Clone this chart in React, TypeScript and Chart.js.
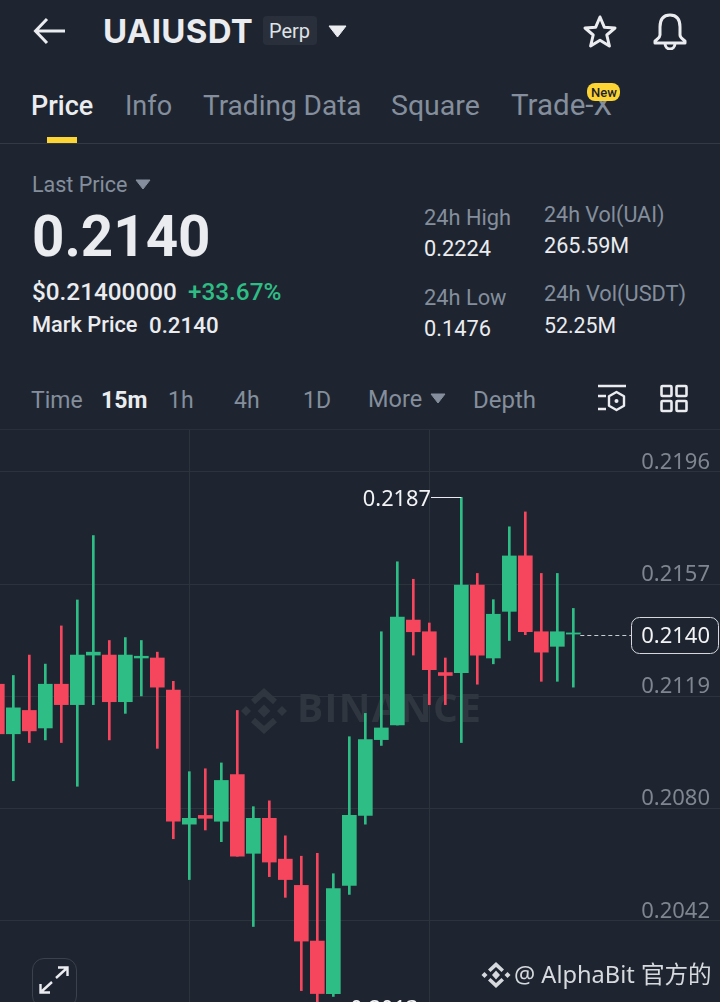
import React, { useEffect, useRef } from "react";
import { Chart, registerables } from "chart.js";

Chart.register(...registerables);

const opens = [0.21232,0.21062,0.21142,0.21082,0.21232,0.21162,0.21332,0.21332,0.21172,0.21322,0.21322,0.21212,0.20752,0.20782,0.20762,0.20922,0.20652,0.20772,0.20632,0.20542,0.20351,0.20171,0.20542,0.20782,0.21042,0.21092,0.21452,0.21412,0.21272,0.21272,0.21572,0.21322,0.21482,0.21672,0.21412,0.21362,0.21404];
const closes = [0.21062,0.21151,0.21072,0.21232,0.21162,0.21332,0.21342,0.21172,0.21332,0.21328,0.21222,0.20762,0.20772,0.20772,0.20902,0.20642,0.20772,0.20622,0.20562,0.20351,0.20171,0.20531,0.20782,0.21042,0.21082,0.21462,0.21412,0.21282,0.21262,0.21572,0.21332,0.21472,0.21672,0.21412,0.21342,0.21412,0.21408];
const highs = [0.21241,0.21262,0.21332,0.21301,0.21432,0.21521,0.21742,0.21382,0.21392,0.21382,0.21342,0.21242,0.20932,0.20942,0.20962,0.21142,0.20812,0.20832,0.20712,0.20642,0.20652,0.20582,0.21052,0.21132,0.21412,0.21652,0.21592,0.21442,0.21322,0.21873,0.21612,0.21522,0.21772,0.21823,0.21612,0.21612,0.21492];
const lows = [0.21053,0.20901,0.21032,0.21041,0.21032,0.20882,0.21162,0.21041,0.21132,0.21192,0.21012,0.20702,0.20562,0.20732,0.20692,0.20642,0.20401,0.20572,0.20501,0.20181,0.20102,0.20161,0.20511,0.20752,0.21022,0.21092,0.21332,0.21162,0.21162,0.21032,0.21232,0.21302,0.21382,0.21402,0.21242,0.21242,0.21222];
const gridValues = [0.2196, 0.21575, 0.2119, 0.20805, 0.2042];
const tickLabels = ["0.2196", "0.2157", "0.2119", "0.2080", "0.2042"];
const verticalGrid = [12, 27];
const lastPrice = 0.214;
const highLabel = "0.2187";
const lowLabel = "0.2013";

const BG = "#1e2530";
const GRID = "#2d333d";
const UP = "#2ebd85";
const DOWN = "#f6465d";
const GRAY = "#848e9c";
const WHITE = "#eaecef";
const FONT = "Roboto, sans-serif";

const color = (i: number) => (closes[i] >= opens[i] ? UP : DOWN);

const annotations = {
  id: "annotations",
  beforeDatasetsDraw(chart: any) {
    const c = chart.ctx;
    c.save();
    c.fillStyle = "#30363f";
    const dia = (cx: number, cy: number, r: number) => {
      c.beginPath();
      c.moveTo(cx, cy - r);
      c.lineTo(cx + r, cy);
      c.lineTo(cx, cy + r);
      c.lineTo(cx - r, cy);
      c.closePath();
      c.fill();
    };
    const ox = 264, oy = 281;
    dia(ox, oy, 6.5);
    dia(ox - 18, oy, 5);
    dia(ox + 18, oy, 5);
    c.strokeStyle = "#30363f";
    c.lineWidth = 6;
    c.beginPath();
    c.moveTo(ox - 11, oy - 9);
    c.lineTo(ox, oy - 19);
    c.lineTo(ox + 11, oy - 9);
    c.moveTo(ox - 11, oy + 9);
    c.lineTo(ox, oy + 19);
    c.lineTo(ox + 11, oy + 9);
    c.stroke();
    c.font = "700 39px 'Open Sans', sans-serif";
    c.textBaseline = "middle";
    c.textAlign = "left";
    (c as any).letterSpacing = "1.3px";
    c.fillText("BINANCE", 297, 281);
    (c as any).letterSpacing = "0px";
    c.restore();
  },
  afterDatasetsDraw(chart: any) {
    const c = chart.ctx;
    const xs = chart.scales.x;
    const ys = chart.scales.y;
    c.save();
    const hi = Math.max(...highs);
    const hiX = xs.getPixelForValue(highs.indexOf(hi));
    const hiY = Math.round(ys.getPixelForValue(hi)) + 0.5;
    c.strokeStyle = "#e8eaed";
    c.lineWidth = 1;
    c.beginPath();
    c.moveTo(431, hiY);
    c.lineTo(hiX, hiY);
    c.stroke();
    c.fillStyle = "#f2f3f5";
    c.font = "21.8px 'Noto Sans', sans-serif";
    c.textAlign = "right";
    c.textBaseline = "middle";
    c.fillText(highLabel, 431, hiY + 2);
    const loX = xs.getPixelForValue(lows.indexOf(Math.min(...lows)));
    c.textAlign = "left";
    c.fillText(lowLabel, loX + 33, 580);
    const py = Math.round(ys.getPixelForValue(lastPrice)) + 0.5;
    c.setLineDash([4, 3]);
    c.strokeStyle = "#c9ccd1";
    c.beginPath();
    c.moveTo(xs.getPixelForValue(opens.length - 1) + 7, py);
    c.lineTo(631, py);
    c.stroke();
    c.setLineDash([]);
    c.fillStyle = BG;
    c.strokeStyle = "#d5d7da";
    c.beginPath();
    c.roundRect(631.5, py - 18, 87, 36, 8);
    c.fill();
    c.stroke();
    c.fillStyle = "#f2f3f5";
    c.font = "22px 'Noto Sans', sans-serif";
    c.textAlign = "right";
    c.fillText(lastPrice.toFixed(4), 710, py + 1);
    c.restore();
  },
};

const noPadding = (s: any) => {
  s.paddingTop = 0;
  s.paddingBottom = 0;
  s.paddingLeft = 0;
  s.paddingRight = 0;
};

function CandleChart() {
  const ref = useRef<HTMLCanvasElement | null>(null);
  useEffect(() => {
    if (!ref.current) return;
    const idx = opens.map((_, i) => i);
    const chart = new Chart(ref.current, {
      type: "bar",
      data: {
        datasets: [
          {
            label: "wick",
            data: idx.map((i) => ({ x: i, y: [lows[i], highs[i]] })) as any,
            backgroundColor: idx.map(color),
            barThickness: 2,
            grouped: false,
            order: 2,
          },
          {
            label: "body",
            data: idx.map((i) => ({ x: i, y: [opens[i], closes[i]] })) as any,
            backgroundColor: idx.map(color),
            barThickness: 14,
            grouped: false,
            order: 1,
          },
        ],
      },
      options: {
        animation: false,
        responsive: false,
        devicePixelRatio: 1,
        layout: { padding: 0 },
        plugins: { legend: { display: false }, tooltip: { enabled: false } },
        scales: {
          x: {
            type: "linear",
            offset: false,
            min: 0.167,
            max: 45.167,
            afterBuildTicks: (s: any) => {
              s.ticks = verticalGrid.map((value) => ({ value }));
            },
            afterFit: (s: any) => {
              s.height = 0;
              noPadding(s);
            },
            grid: { color: GRID, drawTicks: false, offset: false },
            border: { display: false },
            ticks: { display: false },
          },
          y: {
            type: "linear",
            position: "right",
            min: 0.20142,
            max: 0.22104,
            afterBuildTicks: (s: any) => {
              s.ticks = gridValues.map((value) => ({ value }));
            },
            afterFit: (s: any) => {
              s.width = 0;
              noPadding(s);
            },
            grid: { color: GRID, drawTicks: false },
            border: { display: false },
            ticks: {
              mirror: true,
              padding: -10,
              labelOffset: -9.5,
              autoSkip: false,
              color: "#7f8690",
              font: { family: "'Noto Sans', sans-serif", size: 22 },
              callback: (_v: any, i: number) => tickLabels[i],
            },
          },
        },
      } as any,
      plugins: [annotations],
    });
    return () => chart.destroy();
  }, []);
  return (
    <canvas
      ref={ref}
      width={720}
      height={572}
      style={{ position: "absolute", left: 0, top: 430, width: 720, height: 572, display: "block" }}
    />
  );
}

type TP = {
  x: number;
  y: number;
  size: number;
  color?: string;
  weight?: number;
  family?: string;
  ls?: number;
  children: React.ReactNode;
};
const T = ({ x, y, size, color = GRAY, weight = 400, family = FONT, ls = 0, children }: TP) => (
  <div
    style={{
      position: "absolute",
      left: x,
      top: y,
      transform: "translateY(-50%)",
      fontSize: size,
      lineHeight: 1,
      color,
      fontWeight: weight,
      fontFamily: family,
      letterSpacing: ls,
      whiteSpace: "nowrap",
    }}
  >
    {children}
  </div>
);

const Tri = ({ x, y, w, h, fill }: { x: number; y: number; w: number; h: number; fill: string }) => (
  <svg style={{ position: "absolute", left: x, top: y }} width={w} height={h} viewBox={`0 0 ${w} ${h}`}>
    <path d={`M1 1 L${w - 1} 1 L${w / 2} ${h - 1} Z`} fill={fill} stroke={fill} strokeLinejoin="round" />
  </svg>
);

const Box = (props: any) => <div style={{ position: "absolute", ...props }} />;

export default function App() {
  return (
    <div
      style={{
        position: "fixed",
        left: 0,
        top: 0,
        width: 720,
        height: 1002,
        background: BG,
        overflow: "hidden",
      }}
    >
      <svg style={{ position: "absolute", left: 32, top: 16 }} width={36} height={30} fill="none" stroke={WHITE} strokeWidth={3}>
        <path d="M33 15 H4 M15 3 L3.5 15 L15 27" />
      </svg>
      <T x={103} y={31} size={33} color={WHITE} weight={700} family="Inter, sans-serif" ls={0.3}>UAIUSDT</T>
      <Box left={263} top={16} width={54} height={29} background="#2a303b" borderRadius={4} />
      <T x={269} y={31} size={20} color="#dfe2e6">Perp</T>
      <Tri x={328} y={25} w={19} h={13} fill={WHITE} />
      <svg style={{ position: "absolute", left: 582, top: 14 }} width={36} height={36} fill="none" stroke={WHITE} strokeWidth={3} strokeLinejoin="round">
        <path d="M18 3 L22.3 13.2 L33 14 L24.8 21 L27.4 32 L18 26.2 L8.6 32 L11.2 21 L3 14 L13.7 13.2 Z" />
      </svg>
      <svg style={{ position: "absolute", left: 652, top: 12 }} width={36} height={38} fill="none" stroke={WHITE} strokeWidth={3} strokeLinejoin="round">
        <path d="M18 3 C10 3 8 9 8 15 V23 C8 26 5 27 3 29 V31 H33 V29 C31 27 28 26 28 23 V15 C28 9 26 3 18 3 Z" />
        <path d="M13 31 C13 39 23 39 23 31" />
      </svg>

      <T x={31} y={106} size={27} color={WHITE} weight={500}>Price</T>
      <T x={125} y={106} size={27}>Info</T>
      <T x={203} y={106} size={28}>Trading Data</T>
      <T x={391} y={106} size={28.5}>Square</T>
      <T x={511} y={106} size={29.5}>Trade-X</T>
      <Box left={587} top={83} width={33} height={18} background="#fcd535" borderRadius={8} />
      <T x={591} y={92} size={13} color="#1e2329" weight={500}>New</T>
      <Box left={47} top={137} width={30} height={6} background="#fcd535" />
      <Box left={0} top={143} width={720} height={1} background="#343a44" />

      <T x={32} y={185} size={21.5}>Last Price</T>
      <Tri x={135} y={179} w={16} h={11} fill={GRAY} />
      <T x={32} y={237} size={56.5} color={WHITE} weight={700}>0.2140</T>
      <T x={32} y={292} size={24.3} color={WHITE} weight={500}>$0.21400000</T>
      <T x={188} y={292} size={24.3} color={UP} weight={500}>+33.67%</T>
      <T x={32} y={325} size={21.8} color={WHITE} weight={500}>Mark Price</T>
      <T x={149} y={325} size={22.3} color={WHITE} weight={500}>0.2140</T>

      <T x={424} y={218} size={21.8}>24h High</T>
      <T x={424} y={249} size={21.8} color={WHITE}>0.2224</T>
      <T x={544} y={215} size={21.5}>24h Vol(UAI)</T>
      <T x={544} y={246} size={21.6} color={WHITE}>265.59M</T>
      <T x={424} y={298} size={21.8}>24h Low</T>
      <T x={424} y={329} size={21.8} color={WHITE}>0.1476</T>
      <T x={544} y={294} size={21.8}>24h Vol(USDT)</T>
      <T x={544} y={326} size={21.3} color={WHITE}>52.25M</T>

      <T x={31} y={400} size={23}>Time</T>
      <T x={101} y={400} size={23} color={WHITE} weight={700}>15m</T>
      <T x={168} y={400} size={23}>1h</T>
      <T x={234} y={400} size={23}>4h</T>
      <T x={303} y={400} size={23}>1D</T>
      <T x={368} y={400} size={23.5}>More</T>
      <Tri x={430} y={393} w={16} h={11} fill={GRAY} />
      <T x={473} y={400} size={24}>Depth</T>
      <svg style={{ position: "absolute", left: 596, top: 382 }} width={34} height={32} fill="none" stroke={WHITE} strokeWidth={2.4}>
        <path d="M2 4 H30 M2 14 H10 M2 27 H10" />
        <path d="M20.5 10 L28 14.3 V23.7 L20.5 28 L13 23.7 V14.3 Z" strokeLinejoin="round" />
        <circle cx={20.5} cy={19} r={2} fill={WHITE} stroke="none" />
      </svg>
      <svg style={{ position: "absolute", left: 659, top: 384 }} width={30} height={30} fill="none" stroke={WHITE} strokeWidth={2.6}>
        <rect x={2.5} y={2} width={10} height={10} rx={1} />
        <rect x={17.5} y={2} width={10} height={10} rx={1} />
        <rect x={2.5} y={17} width={10} height={10} rx={1} />
        <rect x={17.5} y={17} width={10} height={10} rx={1} />
      </svg>
      <Box left={0} top={429} width={720} height={1} background="#2a303a" />

      <CandleChart />

      <Box left={32} top={958} width={43} height={48} border="1.5px solid #3c424d" borderRadius={12} />
      <svg style={{ position: "absolute", left: 39, top: 965 }} width={30} height={30} fill="none" stroke={WHITE} strokeWidth={2.4}>
        <path d="M17 13 L28 3 M19 2.5 H28.5 V11" />
        <path d="M13 17 L2 27 M11 27.5 H1.5 V19" />
      </svg>

      <svg style={{ position: "absolute", left: 481, top: 961 }} width={30} height={28} fill="#d6d9dd">
        <path d="M15 9.5 L19 14 L15 18.5 L11 14 Z" />
        <path d="M3.5 11 L6.5 14 L3.5 17 L0.5 14 Z" />
        <path d="M26.5 11 L29.5 14 L26.5 17 L23.5 14 Z" />
        <path d="M15 1 L23 8.5 L20.5 11 L15 6 L9.5 11 L7 8.5 Z" />
        <path d="M15 27 L23 19.5 L20.5 17 L15 22 L9.5 17 L7 19.5 Z" />
      </svg>
      <T x={514} y={975} size={23.6} color="#d6d9dd" family="'Noto Sans', 'Noto Sans CJK SC', sans-serif">@ AlphaBit 官方的</T>
    </div>
  );
}
